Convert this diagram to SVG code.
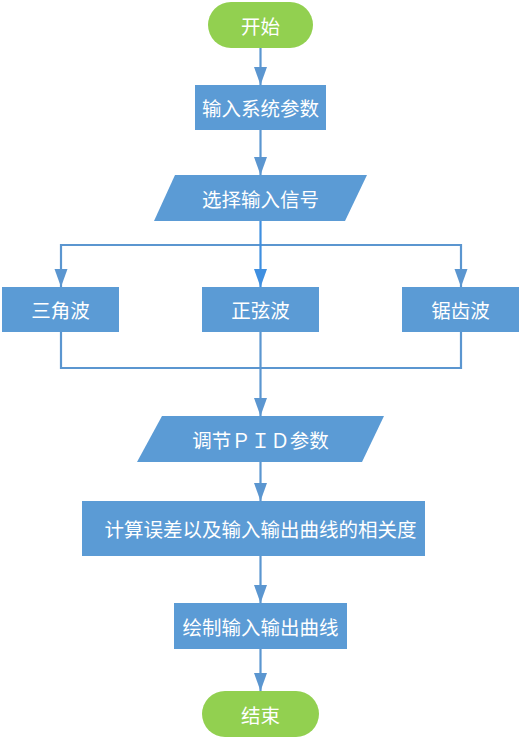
<svg xmlns="http://www.w3.org/2000/svg" width="521" height="739" viewBox="0 0 521 739">
<style>
.box{fill:#5B9BD5;}
.term{fill:#92D050;}
.t{fill:#ffffff;font-family:"Noto Sans CJK SC","Liberation Sans",sans-serif;font-size:19.5px;text-anchor:middle;dominant-baseline:central;}
.c{fill:none;stroke:#5B96D0;stroke-width:2.2;}
.c2{fill:none;stroke:#3F8FE0;stroke-width:2.2;}
</style>
<defs>
<marker id="a" markerUnits="userSpaceOnUse" markerWidth="18" markerHeight="14" refX="18" refY="7" orient="auto">
<path d="M0,0.5 L18,7 L0,13.5 z" fill="#5B96D0"/>
</marker>
<marker id="a2" markerUnits="userSpaceOnUse" markerWidth="18" markerHeight="14" refX="18" refY="7" orient="auto">
<path d="M0,0.5 L18,7 L0,13.5 z" fill="#3F8FE0"/>
</marker>
</defs>
<rect width="521" height="739" fill="#ffffff"/>
<g id="connectors">
<path class="c" d="M260.5,48 V85" marker-end="url(#a)"/>
<path class="c" d="M260.5,130 V175" marker-end="url(#a)"/>
<path class="c" d="M260.5,245 H61 V287" marker-end="url(#a)"/>
<path class="c" d="M260.5,245 H461 V287" marker-end="url(#a)"/>
<path class="c2" d="M260.5,221 V287" marker-end="url(#a2)"/>
<path class="c" d="M61,332 V368 H461 V332"/>
<path class="c" d="M260.5,332 V416" marker-end="url(#a)"/>
<path class="c" d="M260.5,462 V501" marker-end="url(#a)"/>
<path class="c" d="M260.5,556 V603" marker-end="url(#a)"/>
<path class="c" d="M260.5,649 V691" marker-end="url(#a)"/>
</g>
<g id="start">
<rect class="term" x="208" y="2" width="105" height="46" rx="23" ry="23"/>
<text class="t" x="260.5" y="25">开始</text>
</g>
<g id="input-params">
<rect class="box" x="195" y="85" width="131" height="45"/>
<text class="t" x="260.5" y="107.5">输入系统参数</text>
</g>
<g id="select-signal">
<polygon class="box" points="175,175 367,175 345,221 154,221"/>
<text class="t" x="260.5" y="198">选择输入信号</text>
</g>
<g id="triangle">
<rect class="box" x="2" y="287" width="117" height="45"/>
<text class="t" x="60.5" y="309.5">三角波</text>
</g>
<g id="sine">
<rect class="box" x="202" y="287" width="117" height="45"/>
<text class="t" x="260.5" y="309.5">正弦波</text>
</g>
<g id="sawtooth">
<rect class="box" x="402" y="287" width="117" height="45"/>
<text class="t" x="460.5" y="309.5">锯齿波</text>
</g>
<g id="tune-pid">
<polygon class="box" points="162,416 384,416 362,462 137,462"/>
<text class="t" x="260.5" y="439">调节ＰＩＤ参数</text>
</g>
<g id="compute">
<rect class="box" x="82" y="501" width="343" height="55"/>
<text class="t" x="260.5" y="528.5">计算误差以及输入输出曲线的相关度</text>
</g>
<g id="plot">
<rect class="box" x="174" y="603" width="173" height="46"/>
<text class="t" x="260.5" y="626">绘制输入输出曲线</text>
</g>
<g id="end">
<rect class="term" x="202" y="691" width="117" height="46" rx="23" ry="23"/>
<text class="t" x="260.5" y="714">结束</text>
</g>
</svg>
